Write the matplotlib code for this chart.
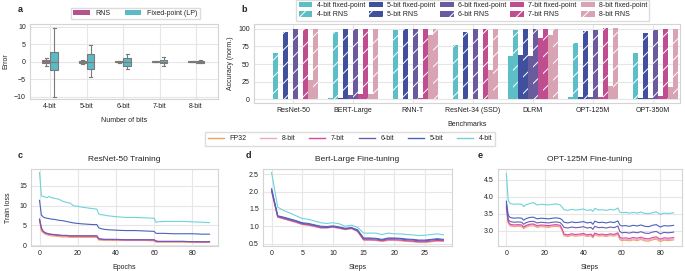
import matplotlib
matplotlib.use("Agg")
import matplotlib.pyplot as plt
from matplotlib.patches import Patch
from matplotlib.lines import Line2D

plt.rcParams['font.family'] = ['Liberation Sans', 'DejaVu Sans']
plt.rcParams['hatch.linewidth'] = 0.7
plt.rcParams['font.size'] = 5
plt.rcParams['axes.edgecolor'] = '#d4d4d4'
plt.rcParams['axes.linewidth'] = 0.8
plt.rcParams['grid.color'] = '#e6e6e6'
plt.rcParams['grid.linewidth'] = 0.8
plt.rcParams['xtick.color'] = '#222222'
plt.rcParams['ytick.color'] = '#222222'
plt.rcParams['text.color'] = '#222222'
plt.rcParams['axes.labelcolor'] = '#222222'

FS = 5.0      # ticks, labels, legends
TFS = 6.0     # subplot titles

# ---------------- panel a: error box plots ----------------
bits = ['4-bit', '5-bit', '6-bit', '7-bit', '8-bit']
rns_q1 = [-0.4, -0.3, -0.2, -0.1, -0.05]
rns_med = [0.0, 0.0, 0.0, 0.0, 0.0]
rns_q3 = [0.4, 0.3, 0.2, 0.1, 0.05]
rns_lo = [-1.1, -0.6, -0.3, -0.15, -0.08]
rns_hi = [1.1, 0.6, 0.3, 0.15, 0.08]
fxp_q1 = [-2.5, -2.0, -1.1, -0.5, -0.3]
fxp_med = [0.0, 0.0, 0.0, 0.0, 0.0]
fxp_q3 = [2.7, 2.1, 1.0, 0.6, 0.3]
fxp_lo = [-10.0, -4.5, -2.2, -1.1, -0.5]
fxp_hi = [9.7, 4.7, 2.3, 1.2, 0.5]

# ---------------- panel b: accuracy bars ----------------
benchmarks = ['ResNet-50', 'BERT-Large', 'RNN-T', 'ResNet-34 (SSD)', 'DLRM', 'OPT-125M', 'OPT-350M']
fxp_4bit = [0, 2, 0, 0, 62, 3, 0]
fxp_5bit = [0, 1, 0, 0, 63, 3, 2]
fxp_6bit = [0, 6, 0, 0, 62, 3, 2]
fxp_7bit = [0, 7, 1, 0, 87, 3, 4]
fxp_8bit = [27, 8, 91, 42, 92, 19, 17]
rns_4bit = [65, 95, 98, 77, 99, 80, 65]
rns_5bit = [95, 100, 100, 96, 100, 97, 94]
rns_6bit = [100, 100, 100, 100, 100, 99, 98]
rns_7bit = [100, 100, 100, 100, 100, 101, 100]
rns_8bit = [100, 100, 100, 100, 100, 101, 100]

# ---------------- panel c: ResNet-50 training loss ----------------
resnet_epochs = [0, 1, 2, 3, 4, 5, 6, 8, 10, 12, 14, 16, 18, 20, 22, 25, 28, 30, 31, 32, 34, 36,
                 40, 45, 50, 55, 60, 61, 62, 65, 70, 75, 80, 85, 89]
resnet_4bit = [18.3, 12.4, 12.3, 12.1, 12.0, 12.3, 12.0, 11.8, 11.6, 11.1, 10.8, 10.6, 9.9, 9.8, 9.6, 9.4,
               9.2, 9.1, 7.9, 7.7, 7.6, 7.4, 7.2, 7.0, 7.0, 6.9, 6.8, 5.8, 5.9, 6.0, 6.0, 6.0, 5.9, 5.8, 5.7]
resnet_5bit = [11.3, 7.6, 7.1, 6.9, 6.8, 6.7, 6.6, 6.5, 6.3, 6.2, 6.0, 5.8, 5.6, 5.5, 5.4, 5.3,
               5.2, 5.2, 4.4, 4.2, 4.0, 3.9, 3.8, 3.7, 3.7, 3.6, 3.5, 3.0, 3.0, 3.0, 2.9, 2.9, 2.9, 2.8, 2.8]
resnet_6bit = [6.6, 4.4, 3.5, 3.2, 3.0, 2.9, 2.8, 2.7, 2.6, 2.5, 2.5, 2.4, 2.4, 2.4, 2.4, 2.4,
               2.4, 2.4, 1.7, 1.6, 1.5, 1.5, 1.5, 1.4, 1.4, 1.4, 1.4, 1.1, 1.0, 1.0, 1.0, 1.0, 0.9, 0.9, 0.9]
resnet_7bit = [6.5, 4.2, 3.4, 3.1, 2.9, 2.8, 2.7, 2.6, 2.5, 2.4, 2.4, 2.3, 2.3, 2.3, 2.3, 2.3,
               2.3, 2.3, 1.6, 1.5, 1.45, 1.45, 1.4, 1.35, 1.35, 1.35, 1.3, 1.0, 0.95, 0.95, 0.95, 0.95, 0.9, 0.85, 0.85]
resnet_8bit = [6.4, 4.0, 3.3, 3.0, 2.8, 2.7, 2.6, 2.5, 2.4, 2.3, 2.3, 2.2, 2.2, 2.2, 2.2, 2.2,
               2.2, 2.2, 1.5, 1.4, 1.4, 1.35, 1.35, 1.3, 1.3, 1.3, 1.25, 0.95, 0.9, 0.9, 0.9, 0.9, 0.85, 0.8, 0.8]
resnet_fp32 = [6.2, 3.6, 3.1, 2.8, 2.6, 2.5, 2.4, 2.3, 2.2, 2.1, 2.1, 2.0, 2.0, 2.0, 2.0, 2.0,
               2.0, 2.0, 1.3, 1.3, 1.2, 1.2, 1.2, 1.2, 1.2, 1.2, 1.1, 0.8, 0.8, 0.8, 0.8, 0.8, 0.7, 0.7, 0.7]

# ---------------- panel d: Bert-Large fine-tuning loss ----------------
bert_steps = list(range(29))
bert_4bit = [2.55, 1.55, 1.45, 1.38, 1.30, 1.22, 1.20, 1.15, 1.10, 1.08, 1.10, 1.07, 1.00, 1.03, 0.97,
             0.80, 0.80, 0.80, 0.76, 0.80, 0.78, 0.78, 0.76, 0.75, 0.73, 0.74, 0.76, 0.78, 0.75]
bert_5bit = [2.08, 1.30, 1.26, 1.21, 1.16, 1.10, 1.08, 1.04, 1.00, 0.99, 1.01, 0.98, 0.94, 0.96, 0.90,
             0.66, 0.66, 0.65, 0.62, 0.66, 0.66, 0.65, 0.63, 0.62, 0.60, 0.60, 0.62, 0.64, 0.62]
bert_6bit = [2.06, 1.29, 1.24, 1.19, 1.14, 1.08, 1.06, 1.02, 0.98, 0.97, 0.99, 0.96, 0.93, 0.95, 0.88,
             0.64, 0.64, 0.63, 0.60, 0.64, 0.64, 0.63, 0.61, 0.60, 0.58, 0.58, 0.60, 0.62, 0.60]
bert_7bit = [2.02, 1.27, 1.22, 1.17, 1.12, 1.06, 1.04, 1.00, 0.96, 0.96, 0.98, 0.95, 0.91, 0.94, 0.86,
             0.61, 0.61, 0.60, 0.58, 0.61, 0.61, 0.60, 0.58, 0.57, 0.55, 0.55, 0.57, 0.59, 0.58]
bert_8bit = [2.01, 1.26, 1.21, 1.16, 1.11, 1.05, 1.03, 0.99, 0.95, 0.95, 0.97, 0.94, 0.90, 0.93, 0.85,
             0.60, 0.60, 0.59, 0.57, 0.60, 0.60, 0.59, 0.57, 0.56, 0.54, 0.54, 0.56, 0.58, 0.57]
bert_fp32 = [2.00, 1.26, 1.21, 1.16, 1.11, 1.05, 1.03, 0.99, 0.95, 0.95, 0.97, 0.94, 0.90, 0.93, 0.85,
             0.60, 0.60, 0.59, 0.56, 0.59, 0.59, 0.58, 0.56, 0.55, 0.53, 0.53, 0.55, 0.57, 0.56]

# ---------------- panel e: OPT-125M fine-tuning loss ----------------
opt_steps = [0, 1, 2, 4, 6, 8, 9, 10, 12, 14, 16, 18, 20, 22, 24, 26, 28, 29, 30, 32, 34, 36, 38, 40,
             42, 44, 45, 46, 48, 50, 52, 54, 56, 58, 59, 60, 62, 64, 66, 68, 70, 72, 74, 76, 78, 80,
             82, 84, 86, 87]
opt_4bit = [4.68, 3.88, 3.80, 3.78, 3.79, 3.78, 3.71, 3.76, 3.80, 3.83, 3.76, 3.78, 3.77, 3.76, 3.78,
            3.79, 3.76, 3.70, 3.62, 3.60, 3.63, 3.61, 3.62, 3.64, 3.60, 3.62, 3.57, 3.66, 3.61, 3.62,
            3.60, 3.63, 3.61, 3.67, 3.55, 3.53, 3.54, 3.52, 3.54, 3.52, 3.55, 3.51, 3.50, 3.53, 3.56,
            3.48, 3.52, 3.51, 3.52, 3.53]
opt_5bit = [3.87, 3.45, 3.39, 3.37, 3.38, 3.37, 3.31, 3.35, 3.39, 3.40, 3.35, 3.37, 3.36, 3.35, 3.37,
            3.38, 3.36, 3.32, 3.25, 3.23, 3.26, 3.24, 3.25, 3.27, 3.23, 3.25, 3.19, 3.28, 3.24, 3.25,
            3.23, 3.26, 3.24, 3.29, 3.17, 3.14, 3.15, 3.13, 3.16, 3.14, 3.17, 3.13, 3.12, 3.16, 3.18,
            3.11, 3.15, 3.14, 3.15, 3.16]
opt_6bit = [3.78, 3.32, 3.27, 3.25, 3.26, 3.25, 3.19, 3.23, 3.27, 3.28, 3.23, 3.25, 3.24, 3.23, 3.25,
            3.26, 3.24, 3.18, 3.10, 3.08, 3.11, 3.09, 3.10, 3.12, 3.08, 3.10, 3.04, 3.13, 3.09, 3.10,
            3.08, 3.11, 3.09, 3.14, 2.98, 2.94, 2.95, 2.93, 2.96, 2.94, 2.97, 2.93, 2.92, 2.96, 2.98,
            2.91, 2.95, 2.94, 2.95, 2.96]
opt_7bit = [3.70, 3.26, 3.19, 3.17, 3.18, 3.17, 3.11, 3.15, 3.19, 3.20, 3.15, 3.17, 3.16, 3.15, 3.17,
            3.18, 3.16, 3.05, 2.90, 2.88, 2.91, 2.89, 2.90, 2.92, 2.88, 2.90, 2.84, 2.93, 2.89, 2.90,
            2.88, 2.91, 2.89, 2.94, 2.81, 2.78, 2.79, 2.77, 2.80, 2.78, 2.81, 2.77, 2.76, 2.80, 2.82,
            2.75, 2.79, 2.78, 2.79, 2.80]
opt_8bit = [3.67, 3.24, 3.16, 3.14, 3.15, 3.14, 3.08, 3.12, 3.16, 3.17, 3.12, 3.14, 3.13, 3.12, 3.14,
            3.15, 3.13, 3.02, 2.87, 2.85, 2.88, 2.86, 2.87, 2.89, 2.85, 2.87, 2.81, 2.90, 2.86, 2.87,
            2.85, 2.88, 2.86, 2.91, 2.77, 2.74, 2.75, 2.73, 2.76, 2.74, 2.77, 2.73, 2.72, 2.76, 2.78,
            2.71, 2.75, 2.74, 2.75, 2.76]
opt_fp32 = [3.64, 3.22, 3.14, 3.12, 3.13, 3.12, 3.06, 3.10, 3.14, 3.15, 3.10, 3.12, 3.11, 3.10, 3.12,
            3.13, 3.11, 3.00, 2.85, 2.83, 2.86, 2.84, 2.85, 2.87, 2.83, 2.85, 2.79, 2.88, 2.84, 2.85,
            2.83, 2.86, 2.84, 2.89, 2.74, 2.71, 2.72, 2.70, 2.73, 2.71, 2.74, 2.70, 2.69, 2.73, 2.75,
            2.68, 2.72, 2.71, 2.72, 2.73]

# colours
bit_colors = ['#5cbfc6', '#3f509e', '#6a5b9f', '#c04d90', '#d8a3b2']
rns_box_color = '#b4548c'
fxp_box_color = '#5bbac3'
line_labels = ['FP32', '8-bit', '7-bit', '6-bit', '5-bit', '4-bit']
line_colors = ['#f4a160', '#eba8c6', '#d9489a', '#6b5cb0', '#4a62bd', '#6fd3da']

W, H = 685, 271
fig = plt.figure(figsize=(W / 100, H / 100), dpi=100)


def px_axes(x0, y0, x1, y1):
    return fig.add_axes([x0 / W, 1 - y1 / H, (x1 - x0) / W, (y1 - y0) / H])


def style(ax):
    ax.grid(True)
    ax.set_axisbelow(True)
    ax.tick_params(length=0, pad=3, labelsize=FS)
    for s in ax.spines.values():
        s.set_color('#d4d4d4')


# ---- a ----
ax_a = px_axes(30, 24, 218, 99)
style(ax_a)
stats_r, stats_f = [], []
for i in range(len(bits)):
    stats_r.append(dict(med=rns_med[i], q1=rns_q1[i], q3=rns_q3[i], whislo=rns_lo[i], whishi=rns_hi[i], fliers=[]))
    stats_f.append(dict(med=fxp_med[i], q1=fxp_q1[i], q3=fxp_q3[i], whislo=fxp_lo[i], whishi=fxp_hi[i], fliers=[]))
pos = list(range(len(bits)))
lineprops = dict(color='#7a7a7a', linewidth=0.8)
for stats, off, col in [(stats_r, -0.11, rns_box_color), (stats_f, 0.11, fxp_box_color)]:
    ax_a.bxp(stats, positions=[p + off for p in pos], widths=0.21, patch_artist=True, showfliers=False,
             boxprops=dict(facecolor=col, edgecolor='#7a7a7a', linewidth=0.8),
             medianprops=lineprops, whiskerprops=lineprops, capprops=lineprops, capwidths=0.08)
ax_a.set_xticks(pos)
ax_a.set_xticklabels(bits)
ax_a.set_xlim(-0.55, 4.6)
ax_a.set_ylim(-10.7, 10.8)
ax_a.set_yticks([-10, -5, 0, 5, 10])
ax_a.set_yticklabels(['\u221210', '\u22125', '0', '5', '10'])
ax_a.set_xlabel('Number of bits', fontsize=FS, labelpad=5)
ax_a.set_ylabel('Error', fontsize=FS, labelpad=3)
ax_a.legend(handles=[Patch(facecolor=rns_box_color, label='RNS'), Patch(facecolor=fxp_box_color, label='Fixed-point (LP)')],
            loc='center', bbox_to_anchor=(0.56, 1.14), ncol=2, fontsize=FS, frameon=True,
            handlelength=2.4, handleheight=0.8, columnspacing=2.0, borderpad=0.35, edgecolor='#d4d4d4', fancybox=False)

# ---- b ----
ax_b = px_axes(254, 24, 680, 103)
style(ax_b)
fxp_all = [fxp_4bit, fxp_5bit, fxp_6bit, fxp_7bit, fxp_8bit]
rns_all = [rns_4bit, rns_5bit, rns_6bit, rns_7bit, rns_8bit]
bw = 0.082
xs = list(range(len(benchmarks)))
handles = []
for k in range(5):
    off_f = -5 * bw + (2 * k + 0.5) * bw
    off_r = off_f + bw
    ax_b.bar([x + off_f for x in xs], fxp_all[k], width=bw, color=bit_colors[k], linewidth=0)
    ax_b.bar([x + off_r for x in xs], rns_all[k], width=bw, color=bit_colors[k], hatch='//', edgecolor='white', linewidth=0)
    handles.append(Patch(facecolor=bit_colors[k], label=f'{k + 4}-bit fixed-point'))
    handles.append(Patch(facecolor=bit_colors[k], hatch='//', edgecolor='white', linewidth=0, label=f'{k + 4}-bit RNS'))
ax_b.set_xticks(xs)
ax_b.set_xticklabels(benchmarks)
ax_b.set_xlim(-0.65, 6.45)
ax_b.set_ylim(-5.5, 107)
ax_b.set_yticks([0, 25, 50, 75, 100])
ax_b.set_xlabel('Benchmarks', fontsize=FS, labelpad=5)
ax_b.set_ylabel('Accuracy (norm.)', fontsize=FS, labelpad=3)
ax_b.legend(handles=handles, loc='center', bbox_to_anchor=(0.514, 1.175), ncol=5, fontsize=FS,
            handlelength=2.0, handleheight=0.8, columnspacing=0.6, labelspacing=0.35, borderpad=0.3,
            handletextpad=0.6, edgecolor='#d4d4d4', fancybox=False)

# ---- c, d, e ----
line_sets = [
    (resnet_epochs, [resnet_fp32, resnet_8bit, resnet_7bit, resnet_6bit, resnet_5bit, resnet_4bit]),
    (bert_steps, [bert_fp32, bert_8bit, bert_7bit, bert_6bit, bert_5bit, bert_4bit]),
    (opt_steps, [opt_fp32, opt_8bit, opt_7bit, opt_6bit, opt_5bit, opt_4bit]),
]
boxes = [(31, 169, 218, 246), (263, 169, 452, 246), (498, 169, 682, 246)]
titles = ['ResNet-50 Training', 'Bert-Large Fine-tuning', 'OPT-125M Fine-tuning']
xlabels = ['Epochs', 'Steps', 'Steps']
axes = []
for (xv, series), box, title, xl in zip(line_sets, boxes, titles, xlabels):
    ax = px_axes(*box)
    style(ax)
    for ys, c in zip(series, line_colors):
        ax.plot(xv, ys, color=c, linewidth=0.8)
    ax.set_title(title, fontsize=TFS, pad=6)
    ax.set_xlabel(xl, fontsize=FS, labelpad=5)
    axes.append(ax)
axes[0].set_ylabel('Train loss', fontsize=FS, labelpad=5)
axes[0].set_yticks([0, 5, 10, 15])
axes[0].set_xticks([0, 20, 40, 60, 80])
axes[1].set_yticks([0.5, 1.0, 1.5, 2.0, 2.5])
axes[1].set_xticks([0, 5, 10, 15, 20, 25])
axes[2].set_ylim(2.55, 4.82)
axes[2].set_yticks([3.0, 3.5, 4.0, 4.5])
axes[2].set_xticks([0, 20, 40, 60, 80])

fig.legend(handles=[Line2D([], [], color=c, linewidth=1.0, label=l) for l, c in zip(line_labels, line_colors)],
           loc='center', bbox_to_anchor=(350 / W, 1 - 139 / H), ncol=6, fontsize=FS, handlelength=2.3,
           columnspacing=2.0, borderpad=0.45, edgecolor='#d4d4d4', fancybox=False)

# panel letters
for lab, (x, y) in zip('abcde', [(20, 10), (244, 10), (20, 155), (248, 155), (480, 155)]):
    fig.text(x / W, 1 - y / H, lab, fontsize=6.5, fontweight='bold', ha='center', va='center')

fig.savefig('out.png', dpi=100)
